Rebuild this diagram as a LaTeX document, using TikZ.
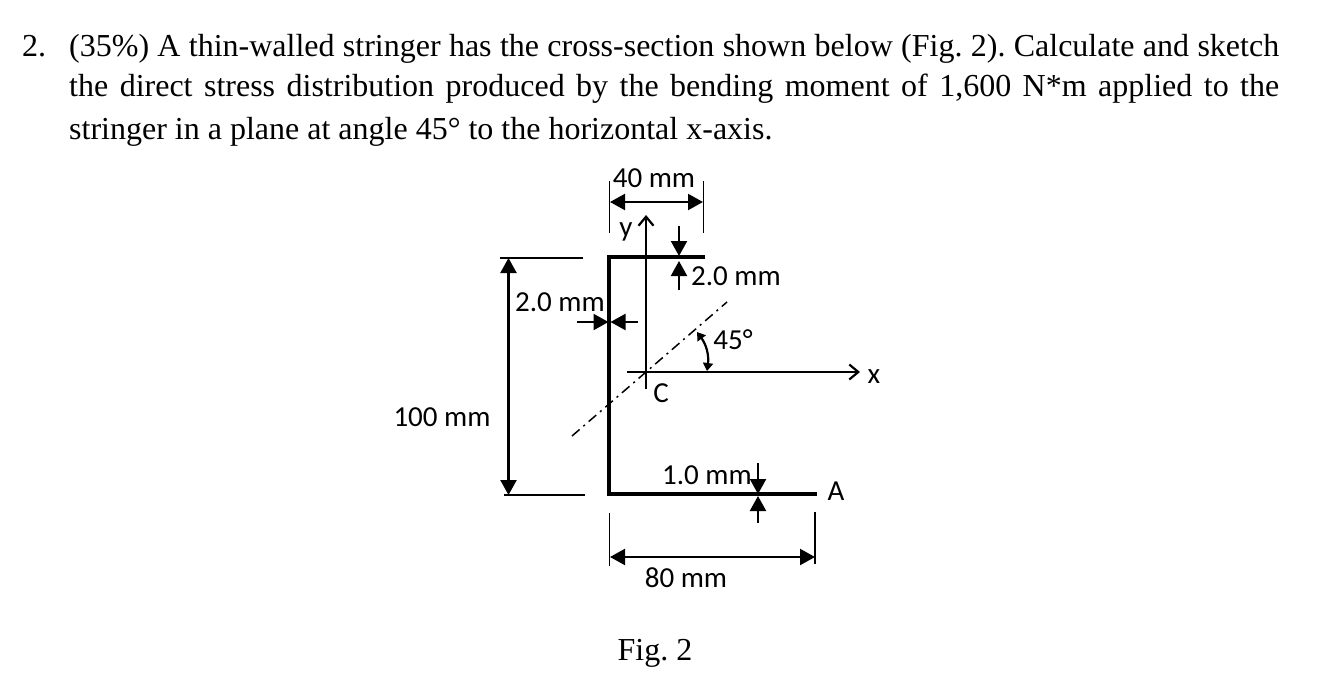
\documentclass[tikz,border=0pt]{standalone}
\usepackage{fontspec}
\setmainfont{Liberation Serif}
\newfontfamily\lab{Carlito}
\usetikzlibrary{arrows.meta}
\frenchspacing
\tikzset{
  para/.style={anchor=base west,inner sep=0pt,font=\fontsize{32}{36}\selectfont},
  lbl/.style={inner sep=0pt,anchor=base,font=\lab\fontsize{29}{32}\selectfont},
  fig/.style={line width=3.2pt,line cap=rect},
  thin/.style={line width=1.8pt},
  dim/.style={line width=2.2pt},
  tip/.style={-{Triangle[width=16pt,length=15pt]}},
  tips/.style={{Triangle[width=16pt,length=15pt]}-{Triangle[width=16pt,length=15pt]}},
  barb/.style={-{Straight Barb[width=15pt,length=9pt,line width=2.2pt]}},
}
\begin{document}
\begin{tikzpicture}[x=1pt,y=-1pt]
\useasboundingbox (0,0) rectangle (1338,691);
% question text
\node[para] (l0) at (22,56) {2.};
\node[para] (l1) at (69,56) {\makebox[1210pt][s]{(35\%) A thin-walled stringer has the cross-section shown below (Fig. 2). Calculate and sketch}};
\node[para] (l2) at (69,96) {\makebox[1210pt][s]{the direct stress distribution produced by the bending moment of 1,600 N*m applied to the}};
\node[para] (l3) at (69,139) {stringer in a plane at angle 45° to the horizontal x-axis.};
% key points
\coordinate (TR) at (703,257);
\coordinate (TL) at (609,257);
\coordinate (BL) at (609,494);
\coordinate (BR) at (815,494);
\coordinate (C) at (646,372);
% section
\draw[fig,line join=miter] (TR) -- (TL) -- (BL) -- (BR);
% axes
\coordinate (yTop) at (646,215);
\coordinate (yEnd) at (646,389);
\coordinate (xStart) at (627,372);
\coordinate (xEnd) at (860,372);
\draw[thin,barb] (yEnd) -- (yTop);
\draw[thin,barb] (xStart) -- (xEnd);
% 45 degree line
\coordinate (d1) at (572,436);
\coordinate (d2) at (727,302);
\draw[line width=1.5pt,dash pattern=on 10pt off 5pt on 2pt off 5pt] (d1) -- (d2);
% angle arc
\coordinate (a1) at (697,332);
\coordinate (a2) at (707,371);
\draw[dim,{Triangle[width=10pt,length=8pt]}-{Triangle[width=10pt,length=8pt]}] (a1) to[bend left=22] (a2);
% 40 mm
\coordinate (e1a) at (609.5,181); \coordinate (e1b) at (609.5,233);
\coordinate (e2a) at (703.5,181); \coordinate (e2b) at (703.5,233);
\coordinate (d40a) at (610,202); \coordinate (d40b) at (703,202);
\draw[thin] (e1a) -- (e1b);
\draw[thin] (e2a) -- (e2b);
\draw[dim,tips] (d40a) -- (d40b);
% top 2.0 mm
\coordinate (t1) at (679,226); \coordinate (t2) at (679,256);
\coordinate (t3) at (679,290); \coordinate (t4) at (679,261);
\draw[dim,tip] (t1) -- (t2);
\draw[dim,tip] (t3) -- (t4);
% left 100 mm
\coordinate (h1) at (500,258); \coordinate (h2) at (583,258);
\coordinate (h3) at (504,495); \coordinate (h4) at (585,495);
\coordinate (v1) at (508.5,258); \coordinate (v2) at (508.5,495);
\draw[thin] (h1) -- (h2);
\draw[thin] (h3) -- (h4);
\draw[dim,tips] (v1) -- (v2);
% web 2.0 mm
\coordinate (w1) at (577,322); \coordinate (w2) at (608.5,322);
\coordinate (w3) at (638,322); \coordinate (w4) at (610.5,322);
\draw[dim,tip] (w1) -- (w2);
\draw[dim,tip] (w3) -- (w4);
% 1.0 mm
\coordinate (b1) at (758,463); \coordinate (b2) at (758,494);
\coordinate (b3) at (758,523); \coordinate (b4) at (758,496);
\draw[dim,tip] (b1) -- (b2);
\draw[dim,tip] (b3) -- (b4);
% 80 mm
\coordinate (f1a) at (609.5,513); \coordinate (f1b) at (609.5,566);
\coordinate (f2a) at (815,512); \coordinate (f2b) at (815,564);
\coordinate (d80a) at (610,557); \coordinate (d80b) at (815,557);
\draw[thin] (f1a) -- (f1b);
\draw[thin] (f2a) -- (f2b);
\draw[dim,tips] (d80a) -- (d80b);
% labels
\node[lbl] (t40) at (654,187) {40 mm};
\node[lbl] (ty) at (626,236) {y};
\node[lbl] (t20a) at (736,285) {2.0 mm};
\node[lbl] (t20b) at (560,311) {2.0 mm};
\node[lbl] (t45) at (733,349) {45°};
\node[lbl] (tC) at (661,402) {C};
\node[lbl] (tx) at (874,383) {x};
\node[lbl] (t100) at (442,426) {100 mm};
\node[lbl] (t10) at (707,484) {1.0 mm};
\node[lbl] (tA) at (836,500) {A};
\node[lbl] (t80) at (686,587) {80 mm};
\node[para,anchor=base] (tfig) at (655,660) {Fig. 2};
\end{tikzpicture}
\end{document}
